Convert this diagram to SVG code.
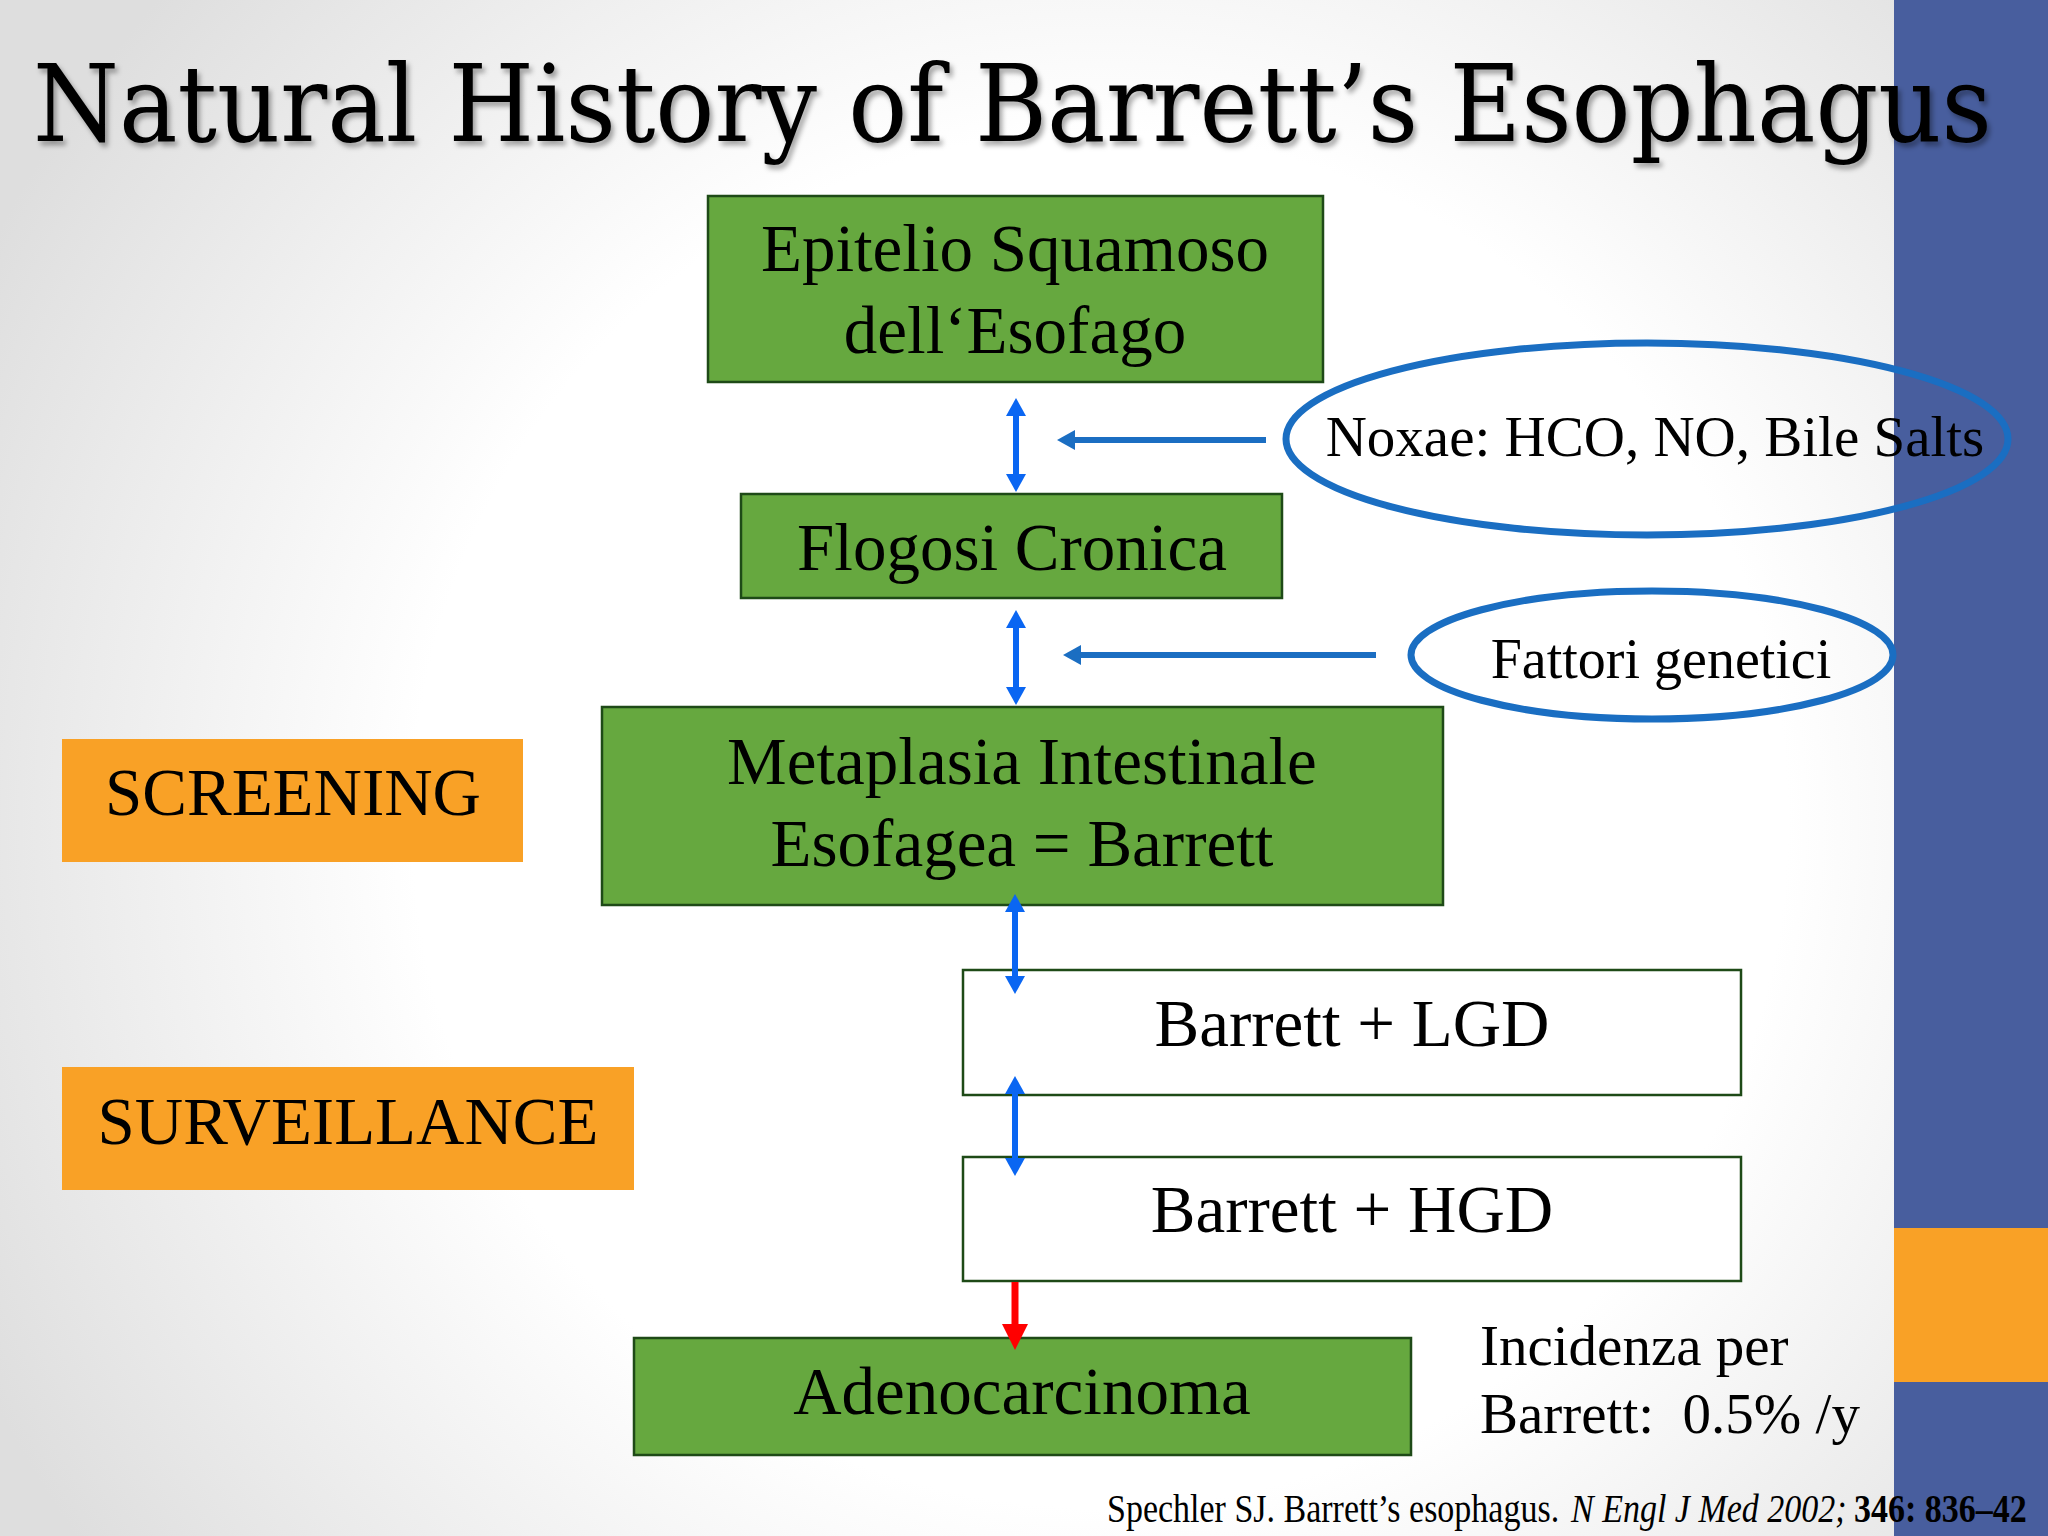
<svg xmlns="http://www.w3.org/2000/svg" width="2048" height="1536" viewBox="0 0 2048 1536">
  <defs>
    <radialGradient id="bg" gradientUnits="userSpaceOnUse" cx="1100" cy="820" r="1250">
      <stop offset="0.55" stop-color="#ffffff"/>
      <stop offset="1" stop-color="#dedede"/>
    </radialGradient>
    <filter id="shadow" filterUnits="userSpaceOnUse" x="-100" y="-200" width="2300" height="400">
      <feDropShadow dx="3" dy="4" stdDeviation="2.5" flood-color="#000000" flood-opacity="0.35"/>
    </filter>
    <marker id="headBright" viewBox="0 0 18 20" refX="0" refY="10" markerWidth="18" markerHeight="20" markerUnits="userSpaceOnUse" orient="auto-start-reverse">
      <path d="M0,0 L18,10 L0,20 z" fill="#0A66F2"/>
    </marker>
    <marker id="headDark" viewBox="0 0 18 20" refX="0" refY="10" markerWidth="18" markerHeight="20" markerUnits="userSpaceOnUse" orient="auto-start-reverse">
      <path d="M0,0 L18,10 L0,20 z" fill="#1B6EC2"/>
    </marker>
    <marker id="headRed" viewBox="0 0 26 26" refX="0" refY="13" markerWidth="26" markerHeight="26" markerUnits="userSpaceOnUse" orient="auto">
      <path d="M0,0 L26,13 L0,26 z" fill="#FF0000"/>
    </marker>
  </defs>
  <style>
    .green { fill: #66A83F; stroke: #1E4A17; stroke-width: 2.5; }
    .white { fill: #FFFFFF; stroke: #1E4A17; stroke-width: 2.5; }
    .orange { fill: #F9A126; }
    .oval { fill: none; stroke: #1A6EC2; stroke-width: 7; }
    .t { font-family: "Liberation Serif", "Times New Roman", serif; fill: #000000; }
    .big { font-size: 67px; }
    .mid { font-size: 57px; }
    .cite { font-size: 34px; }
    .c { text-anchor: middle; }
    .vArrow { stroke: #0A66F2; stroke-width: 6; fill: none; marker-start: url(#headBright); marker-end: url(#headBright); }
    .hArrow { stroke: #1B6EC2; stroke-width: 6; fill: none; marker-end: url(#headDark); }
    .rArrow { stroke: #FF0000; stroke-width: 7; fill: none; marker-end: url(#headRed); }
  </style>

  <!-- background -->
  <rect x="0" y="0" width="2048" height="1536" fill="url(#bg)"/>
  <rect x="1894" y="0" width="154" height="1536" fill="#485E9E"/>
  <rect x="1894" y="1228" width="154" height="154" fill="#F9A126"/>

  <!-- title -->
  <g transform="translate(33,141) scale(1,1.07)">
    <text x="0" y="0" font-family="DejaVu Serif, serif" font-size="99" textLength="1959" lengthAdjust="spacingAndGlyphs" fill="#000000" filter="url(#shadow)">Natural History of Barrett’s Esophagus</text>
  </g>

  <!-- nodes -->
  <g id="node-epitelio">
    <rect class="green" x="708" y="196" width="615" height="186"/>
    <text class="t big c" x="1015" y="271">Epitelio Squamoso</text>
    <text class="t big c" x="1015" y="353">dell‘Esofago</text>
  </g>
  <g id="node-flogosi">
    <rect class="green" x="741" y="494" width="541" height="104"/>
    <text class="t big c" x="1012" y="570">Flogosi Cronica</text>
  </g>
  <g id="node-metaplasia">
    <rect class="green" x="602" y="707" width="841" height="198"/>
    <text class="t big c" x="1022" y="784">Metaplasia Intestinale</text>
    <text class="t big c" x="1022" y="866">Esofagea = Barrett</text>
  </g>
  <g id="node-lgd">
    <rect class="white" x="963" y="970" width="778" height="125"/>
    <text class="t big c" x="1352" y="1046">Barrett + LGD</text>
  </g>
  <g id="node-hgd">
    <rect class="white" x="963" y="1157" width="778" height="124"/>
    <text class="t big c" x="1352" y="1232">Barrett + HGD</text>
  </g>
  <g id="node-adeno">
    <rect class="green" x="634" y="1338" width="777" height="117"/>
    <text class="t big c" x="1022" y="1414">Adenocarcinoma</text>
  </g>
  <g id="node-screening">
    <rect class="orange" x="62" y="739" width="461" height="123"/>
    <text class="t big c" x="293" y="815">SCREENING</text>
  </g>
  <g id="node-surveillance">
    <rect class="orange" x="62" y="1067" width="572" height="123"/>
    <text class="t big c" x="348" y="1144">SURVEILLANCE</text>
  </g>
  <g id="node-noxae">
    <ellipse class="oval" cx="1647" cy="439" rx="361" ry="96"/>
    <text class="t mid c" x="1655" y="456">Noxae: HCO, NO, Bile Salts</text>
  </g>
  <g id="node-fattori">
    <ellipse class="oval" cx="1652" cy="655" rx="241" ry="64"/>
    <text class="t c" font-size="56" x="1661" y="678">Fattori genetici</text>
  </g>

  <!-- connectors -->
  <g id="connectors">
    <line class="vArrow" x1="1016" y1="416" x2="1016" y2="474"/>
    <line class="vArrow" x1="1016" y1="628" x2="1016" y2="687"/>
    <line class="vArrow" x1="1015" y1="912" x2="1015" y2="976"/>
    <line class="vArrow" x1="1015" y1="1094" x2="1015" y2="1158"/>
    <line class="hArrow" x1="1266" y1="440" x2="1075" y2="440"/>
    <line class="hArrow" x1="1376" y1="655" x2="1081" y2="655"/>
    <line class="rArrow" x1="1015" y1="1282" x2="1015" y2="1324"/>
  </g>

  <!-- notes -->
  <g id="note-incidenza">
    <text class="t mid" x="1480" y="1365">Incidenza per</text>
    <text class="t mid" x="1480" y="1433" xml:space="preserve">Barrett:  0.5% /y</text>
  </g>
  <g id="citation" transform="translate(0,1522) scale(1,1.15)">
    <text class="t cite" x="1107" y="0">Spechler SJ. Barrett’s esophagus.</text>
    <text class="t cite" x="1571" y="0" font-style="italic">N Engl J Med 2002;</text>
    <text class="t cite" x="1854" y="0" font-weight="bold">346: 836–42</text>
  </g>
</svg>
